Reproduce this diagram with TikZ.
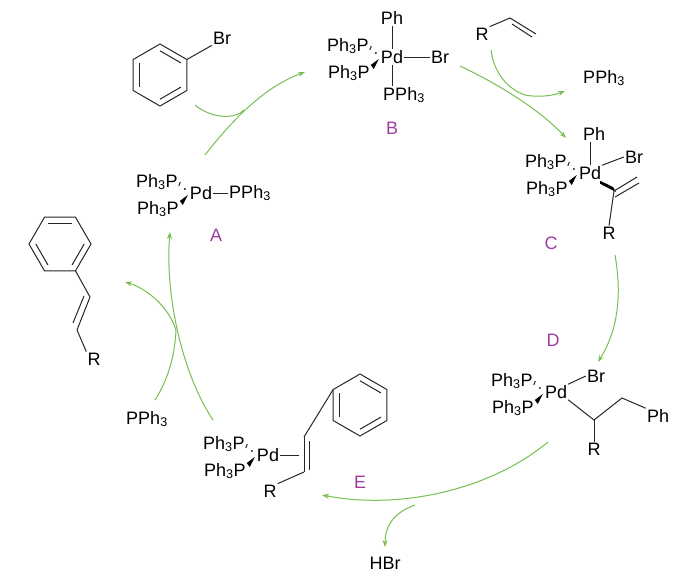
\documentclass[tikz,border=0pt]{standalone}
\usepackage{fontspec}
\setmainfont{Liberation Sans}
\usetikzlibrary{arrows.meta,calc}
\definecolor{grn}{RGB}{120,190,80}
\definecolor{lab}{RGB}{160,60,160}
\newcommand\PPt{Ph\textsubscript{3}P}
\newcommand\PPh{PPh\textsubscript{3}}
\begin{document}
\begin{tikzpicture}[x=1pt,y=-1pt,
  every node/.style={font=\fontsize{18}{20}\selectfont,inner sep=1pt},
  bond/.style={line width=1pt,black!85},
  arr/.style={grn,line width=1pt,-{Stealth[length=7pt,width=5pt]}},
  ln/.style={grn,line width=1pt},
  lbl/.style={text=lab,font=\fontsize{18}{20}\selectfont}]
\useasboundingbox (0,0) rectangle (684,582);
\newcommand\hexa[4]{%
  \foreach \k in {0,...,5}{\coordinate (#4\k) at ($(#1,#2)+(#3+60*\k:31)$);}
  \draw[bond] (#40)--(#41)--(#42)--(#43)--(#44)--(#45)--cycle;
  \foreach \a/\b in {0/1,2/3,4/5}{\draw[bond] ($(#1,#2)!0.78!(#4\a)$)--($(#1,#2)!0.78!(#4\b)$);}}
\newcommand\lig[2]{%
  \node[anchor=east] (#21) at ($(#1.west)+(-10,-11)$) {\PPt};
  \node[anchor=east] (#22) at ($(#1.west)+(-9,16)$) {\PPt};
  \draw[bond] ($(#1.west)+(-10,-7)$) -- ++(1.5,-4);
  \fill ($(#1.west)+(-4,-4)$) circle (1);
  \fill ($(#1.west)+(-1,2)$) -- ($(#1.west)+(-9,8)$) -- ($(#1.west)+(-6,12)$) -- cycle;}
% bromobenzene
\hexa{160}{75}{30}{r1}
\node (br1) at (222,38) {Br};
\draw[bond] (r15) -- (br1.south west);
% B
\node (pdB) at (392,57) {Pd};
\node (phB) at (392,18) {Ph};
\node (brB) at (440,57) {Br};
\node (pB3) at (404,95) {\PPh};
\lig{pdB}{pB}
\node[lbl] (lB) at (392,128) {B};
\draw[bond] (pdB.north) -- (phB.south);
\draw[bond] (pdB.east) -- (brB.west);
\draw[bond] (pdB.south) -- (pB3.north -| pdB.south);
% R-vinyl
\node (rV) at (482,34) {R};
\coordinate (v1) at (510,18);
\coordinate (v2) at (536,34);
\draw[bond] (rV.north east) -- (v1) -- (v2);
\draw[bond] ($(v1)+(2,6)$) -- ($(v2)+(-4,3)$);
\node (pOut) at (604,78) {\PPh};
% C
\node (pdC) at (590,173) {Pd};
\node (phC) at (594,134) {Ph};
\node (brC) at (634,157) {Br};
\lig{pdC}{pC}
\draw[bond] (pdC.north) -- (phC.south -| pdC.north);
\draw[bond] (pdC.north east) -- (brC.west);
\fill ($(pdC.south east)+(-2,0)$) -- ++(0,3) -- (616,192) -- (613,187) -- cycle;
\coordinate (c1) at (614,191); \coordinate (c2) at (637,177);
\draw[bond] (c1) -- (c2); \draw[bond] (615,197) -- (639,183);
\node (rC) at (609,233) {R};
\draw[bond] (c1) -- (rC.north);
\node[lbl] (lC) at (551,243) {C};
% D
\node[lbl] (lD) at (553,340) {D};
\node (pdD) at (556,392) {Pd};
\node (brD) at (596,376) {Br};
\lig{pdD}{pD}
\draw[bond] (pdD.north east) -- (brD.west);
\coordinate (d1) at (594,420); \coordinate (d2) at (622,398);
\node (phD) at (658,416) {Ph};
\node (rD) at (594,449) {R};
\draw[bond] (pdD.south east) -- (d1) -- (d2) -- (phD.north west);
\draw[bond] (d1) -- (rD.north);
% E
\node (pdE) at (268,455) {Pd};
\lig{pdE}{pE}
\coordinate (e1) at (304,437); \coordinate (e2) at (304,472);
\hexa{360}{405}{30}{r2}
\draw[bond] (pdE.east) -- (299,455);
\draw[bond] (e1) -- (e2); \draw[bond] (309,441) -- (309,470);
\draw[bond] (e1) -- (r23);
\node (rE) at (270,491) {R};
\draw[bond] (e2) -- (rE.north east);
\node[lbl] (lE) at (360,482) {E};
\node (hbr) at (385,563) {HBr};
% A
\node (pdA) at (201,193) {Pd};
\node (pA3) at (250,193) {\PPh};
\lig{pdA}{pA}
\draw[bond] (pdA.east) -- (pA3.west);
\node[lbl] (lA) at (216,235) {A};
% styrene
\hexa{60}{244}{0}{r3}
\coordinate (s1) at (90,297); \coordinate (s2) at (77,330);
\draw[bond] (r31) -- (s1) -- (s2);
\draw[bond] (84,296) -- (73,323);
\node (rS) at (94,359) {R};
\draw[bond] (s2) -- (rS.north west);
\node (pIn) at (147,419) {\PPh};
% arrows
\draw[arr] (205,155) .. controls (240,110) and (270,85) .. (305,72);
\draw[ln] (195,105) .. controls (210,118) and (235,120) .. (244,110);
\draw[arr] (460,66) .. controls (500,85) and (540,110) .. (566,138);
\draw[ln] (491,50) .. controls (494,75) and (510,90) .. (525,95);
\draw[arr] (525,95) .. controls (540,98) and (555,95) .. (565,91);
\draw[arr] (615,255) .. controls (622,295) and (618,330) .. (598,362);
\draw[arr] (548,442) .. controls (490,490) and (400,510) .. (322,495);
\draw[arr] (415,505) .. controls (395,512) and (385,525) .. (385,547);
\draw[arr] (213,420) .. controls (180,370) and (165,290) .. (170,232);
\draw[ln] (155,400) .. controls (168,380) and (175,355) .. (176,330);
\draw[arr] (176,330) .. controls (168,305) and (145,288) .. (125,282);
\end{tikzpicture}
\end{document}
